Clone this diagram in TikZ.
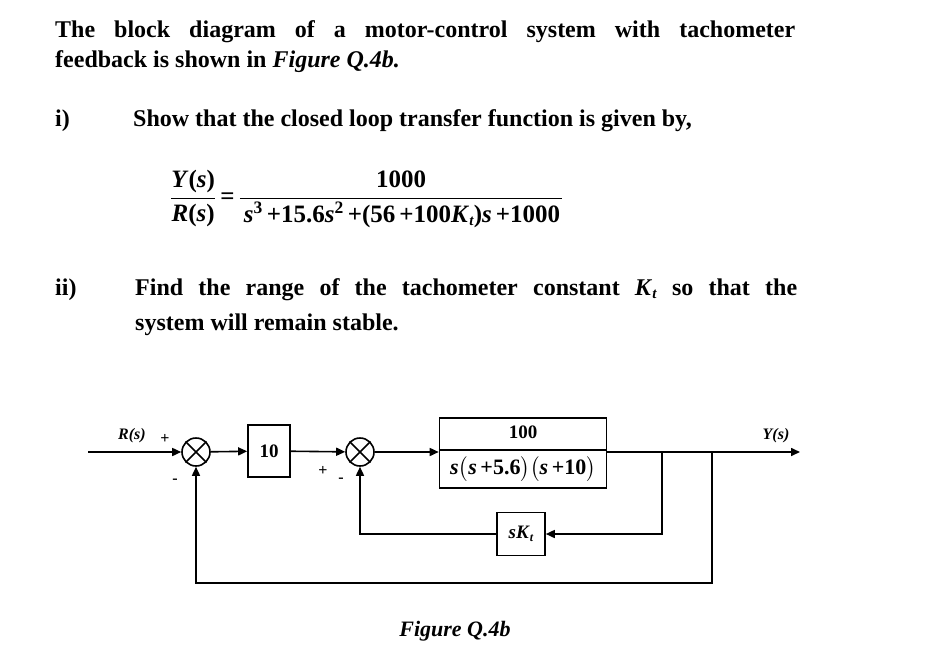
\documentclass[tikz,border=0pt]{standalone}
\usepackage{amsmath}
\usepackage{fontspec}
\setmainfont{Liberation Serif}
\usetikzlibrary{arrows.meta}
\newcommand{\vi}[1]{\textit{#1}}
\newcommand{\pl}{\hspace{4pt}+}
\begin{document}
\begin{tikzpicture}[x=1pt,y=-1pt,
  txt/.style={anchor=west,inner sep=0pt,font=\fontsize{24}{28}\selectfont\bfseries},
  blk/.style={draw,line width=1.6pt,inner sep=0pt},
  sumj/.style={draw,circle,line width=1.6pt,minimum size=28pt,inner sep=0pt},
  sig/.style={line width=1.6pt},
  arr/.style={sig,-{Triangle[length=9pt,width=8pt]}},
  lbl/.style={inner sep=0pt,font=\fontsize{16}{18}\selectfont\bfseries}]
\useasboundingbox (0,0) rectangle (943,672);
\node[txt] (p1) at (55,32) {\makebox[740pt][s]{The block diagram of a motor-control system with tachometer}};
\node[txt] (p1b) at (55,62) {feedback is shown in \textit{Figure Q.4b.}};
\node[txt] (i) at (55,121) {i)};
\node[txt] (i2) at (133,121) {Show that the closed loop transfer function is given by,};
\node[anchor=west,inner sep=0pt,font=\fontsize{25}{28}\selectfont\bfseries] (eq) at (170,199)
  {$\dfrac{\text{\bfseries\vi{Y}(\vi{s})}}{\text{\bfseries\vi{R}(\vi{s})}}\text{\bfseries\,=\,}\dfrac{\text{\bfseries 1000}}{\text{\bfseries\hspace{4pt}\vi{s}\textsuperscript{3}\pl15.6\vi{s}\textsuperscript{2}\pl(56\pl100\vi{K}\raisebox{-3pt}{\fontsize{15}{16}\selectfont\vi{t}})\vi{s}\pl1000\hspace{2pt}}}$};
\node[txt] (ii) at (55,290) {ii)};
\node[txt] (ii2) at (135,290) {\makebox[662pt][s]{Find the range of the tachometer constant \vi{K}\raisebox{-3pt}{\fontsize{15}{15}\selectfont\vi{t}} so that the}};
\node[txt] (ii3) at (135,325) {system will remain stable.};
% diagram
\coordinate (in) at (88,452);
\node[sumj] (s1) at (196,452) {};
\draw[sig] (s1.north west)--(s1.south east) (s1.north east)--(s1.south west);
\node[blk,minimum width=42pt,minimum height=52pt,font=\fontsize{19}{20}\selectfont\bfseries] (b10) at (269,451) {10};
\node[sumj] (s2) at (360,452) {};
\draw[sig] (s2.north west)--(s2.south east) (s2.north east)--(s2.south west);
\node[blk,minimum width=167pt,minimum height=70pt] (g) at (523,453) {};
\draw[sig] (g.west |- 0,450) -- (g.east |- 0,450);
\node[lbl,font=\fontsize{19}{20}\selectfont\bfseries] (gn) at (523,432) {100};
\node[lbl,font=\fontsize{22}{22}\selectfont\bfseries] (gd) at (523,469) {\vi{s}$\bigl($\vi{s}\,+5.6$\bigr)\bigl($\vi{s}\,+10$\bigr)$};
\coordinate (out) at (800,452);
\coordinate (t1) at (662,452);
\coordinate (t2) at (712,452);
\node[blk,minimum width=48pt,minimum height=43pt,font=\fontsize{19}{20}\selectfont\bfseries] (sk) at (521,534) {\vi{sK}\raisebox{-3pt}{\fontsize{12}{12}\selectfont\vi{t}}};
\coordinate (c1) at (662,534);
\coordinate (c2) at (360,534);
\coordinate (c3) at (712,583);
\draw[arr] (in) -- (s1);
\draw[arr] (s1) -- (b10);
\draw[arr] (b10) -- (s2);
\draw[arr] (s2) -- (g.west |- s2);
\draw[arr] (g.east |- out) -- (out);
\draw[arr] (t1) -- (c1) -- (sk);
\draw[arr] (sk) -- (c2) -- (s2);
\draw[arr] (t2) -- (c3) -- (c3 -| s1) -- (s1);
\node[lbl,font=\fontsize{16}{16}\selectfont\bfseries\itshape] (rs) at (132,436) {R(s)};
\node[lbl] (p1s) at (165,439) {+};
\node[lbl] (m1) at (175,481) {-};
\node[lbl] (p2) at (323,471) {+};
\node[lbl] (m2) at (341,480) {-};
\node[lbl,font=\fontsize{16}{16}\selectfont\bfseries\itshape] (ys) at (776,436) {Y(s)};
\node[lbl,font=\fontsize{22}{22}\selectfont\bfseries\itshape] (fig) at (455,631) {Figure Q.4b};
\end{tikzpicture}
\end{document}
